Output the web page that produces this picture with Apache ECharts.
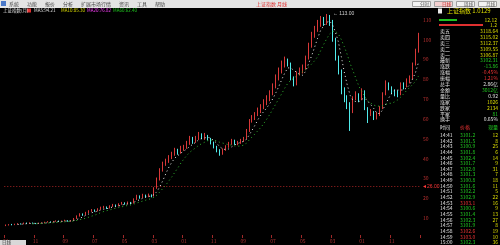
<!DOCTYPE html>
<html><head><meta charset="utf-8">
<script src="https://cdn.jsdelivr.net/npm/echarts@6.0.0/dist/echarts.min.js"></script>
<style>html,body{margin:0;padding:0;background:#000;overflow:hidden}#c{width:500px;height:245px}</style>
</head><body><div id="c"></div>
<script>
// ---- data (monthly candles) ----
const dates = [
'2008-01','2008-02','2008-03','2008-04','2008-05','2008-06','2008-07','2008-08','2008-09','2008-10','2008-11','2008-12',
'2009-01','2009-02','2009-03','2009-04','2009-05','2009-06','2009-07','2009-08','2009-09','2009-10','2009-11','2009-12',
'2010-01','2010-02','2010-03','2010-04','2010-05','2010-06','2010-07','2010-08','2010-09','2010-10','2010-11','2010-12',
'2011-01','2011-02','2011-03','2011-04','2011-05','2011-06','2011-07','2011-08','2011-09','2011-10','2011-11','2011-12',
'2012-01','2012-02','2012-03','2012-04','2012-05','2012-06','2012-07','2012-08','2012-09','2012-10','2012-11','2012-12',
'2013-01','2013-02','2013-03','2013-04','2013-05','2013-06','2013-07','2013-08','2013-09','2013-10','2013-11','2013-12',
'2014-01','2014-02','2014-03','2014-04','2014-05','2014-06','2014-07','2014-08','2014-09','2014-10','2014-11','2014-12',
'2015-01','2015-02','2015-03','2015-04','2015-05','2015-06','2015-07','2015-08','2015-09','2015-10','2015-11','2015-12',
'2016-01','2016-02','2016-03','2016-04','2016-05','2016-06','2016-07','2016-08','2016-09','2016-10','2016-11','2016-12',
'2017-01','2017-02','2017-03','2017-04','2017-05','2017-06','2017-07','2017-08','2017-09','2017-10','2017-11','2017-12',
'2018-01','2018-02','2018-03','2018-04','2018-05','2018-06','2018-07','2018-08','2018-09','2018-10','2018-11','2018-12',
'2019-01','2019-02','2019-03','2019-04','2019-05','2019-06','2019-07','2019-08'];
const openP = [
6.2,6.5,6.9,6.6,7.0,7.3,7.0,7.6,7.3,7.7, 7.4,7.2,7.5,7.6,7.9,8.3,8.0,8.4,8.7,8.3,
8.5,8.9,8.4,8.8,9.8,11.0,12.1,11.6,12.8,13.5, 14.1,13.6,14.5,15.2,15.6,15.0,16.0,16.6,16.2,17.0,
17.7,17.2,17.9,17.5,19.5,21.1,20.4,21.6,20.8,21.7, 21.0,25.0,29.5,34.0,37.2,38.6,40.6,42.0,44.2,43.0,
45.2,45.5,47.5,50.2,48.5,50.0,52.2,50.5,51.6,50.0, 48.2,46.0,44.2,42.5,44.5,46.0,47.5,49.2,47.5,48.0,
49.0,50.0,54.0,59.2,60.5,62.2,64.0,65.5,68.2,70.0, 72.5,76.0,80.5,84.0,87.5,89.2,88.0,80.5,77.5,83.0,
84.0,85.5,90.5,97.0,102.5,105.5,108.0,110.2,108.5,111.5, 109.0,100.0,90.5,84.0,74.0,70.0,67.5,64.0,70.5,72.0,
70.0,74.0,65.5,62.5,63.5,60.5,62.0,65.5,72.5,77.5, 76.0,74.0,73.0,72.5,77.5,76.5,79.0,80.5,87.5,94.0];
const closeP = [
6.5,6.8,6.6,7.0,7.2,7.0,7.5,7.3,7.6,7.4, 7.2,7.5,7.6,7.9,8.2,8.0,8.4,8.6,8.3,8.5,
8.9,8.4,8.8,9.8,11.0,12.0,11.6,12.8,13.5,14.0, 13.6,14.5,15.2,15.5,15.0,16.0,16.5,16.2,17.0,17.6,
17.2,17.8,17.5,19.5,21.0,20.4,21.5,20.8,21.6,21.0, 25.0,29.5,34.0,37.0,38.5,40.5,42.0,44.0,43.0,45.0,
45.5,47.5,50.0,48.5,50.0,52.0,50.5,51.5,50.0,48.0, 46.0,44.0,42.5,44.5,46.0,47.5,49.0,47.5,48.0,49.0,
50.0,54.0,59.0,60.5,62.0,64.0,65.5,68.0,70.0,72.5, 76.0,80.5,84.0,87.5,89.0,88.0,80.5,77.5,83.0,84.0,
85.5,90.5,97.0,102.5,105.5,108.0,110.0,108.5,111.5,109.0, 100.0,90.5,84.0,74.0,70.0,67.5,64.0,70.5,72.0,70.0,
74.0,65.5,62.5,63.5,60.5,62.0,65.5,72.5,77.5,76.0, 74.0,73.0,72.5,77.5,76.5,79.0,80.5,87.5,94.0,102.5];
const lowP = [
6.0,6.3,6.4,6.5,6.8,6.8,6.9,7.1,7.2,7.2, 7.0,7.1,7.3,7.5,7.8,7.8,7.9,8.2,8.1,8.2,
8.4,8.2,8.3,8.7,9.6,10.8,11.2,11.5,12.6,13.2, 13.2,13.4,14.3,14.9,14.6,14.9,15.7,15.8,16.0,16.8,
16.8,17.0,17.0,17.4,19.2,19.8,20.2,20.3,20.6,20.5, 20.9,24.8,29.0,33.5,36.4,37.9,39.8,41.5,42.0,42.5,
44.0,45.0,47.0,47.5,48.0,49.5,49.8,49.5,49.2,47.2, 45.2,43.2,41.5,42.0,44.0,45.5,47.0,47.0,46.8,47.5,
48.5,49.8,53.5,58.2,59.5,61.5,63.0,65.0,67.0,69.0, 72.0,75.5,79.5,83.0,86.0,86.5,79.5,76.5,77.0,82.0,
83.0,85.0,90.0,96.0,101.0,104.0,106.5,107.0,107.5,107.0, 99.0,89.5,82.5,72.5,68.5,65.0,54.0,63.0,69.5,68.5,
69.5,64.5,58.0,61.5,59.5,59.8,61.5,65.0,72.0,74.5, 72.5,71.5,71.0,72.0,75.0,76.0,78.0,80.0,87.0,93.5];
const highP = [
6.8,7.0,7.1,7.2,7.5,7.4,7.8,7.8,7.9,7.8, 7.6,7.7,7.9,8.2,8.5,8.4,8.6,8.9,8.8,8.8,
9.2,9.0,9.0,10.1,11.4,12.5,12.4,13.2,14.0,14.6, 14.4,15.0,15.8,16.2,15.9,16.5,17.2,16.9,17.5,18.2,
18.0,18.4,18.2,20.0,21.8,21.5,22.3,21.9,22.4,22.0, 25.6,30.5,35.2,38.5,40.0,41.8,43.5,45.5,45.0,46.5,
47.0,49.0,51.5,51.0,51.5,53.5,52.8,53.0,52.0,50.5, 48.6,46.5,44.8,45.2,46.8,48.5,50.0,49.6,49.0,50.0,
51.0,55.0,60.0,62.0,63.5,65.8,67.5,70.0,72.0,74.5, 78.0,82.5,86.0,89.5,91.5,90.5,88.5,81.5,84.0,86.0,
87.5,92.0,98.5,104.0,107.0,110.0,112.0,111.5,113.0,112.5, 110.0,101.0,92.0,85.0,76.0,72.0,68.5,71.5,74.0,73.0,
75.5,74.5,66.0,65.0,64.0,63.5,66.5,73.5,79.5,78.5, 76.5,75.0,74.5,78.5,78.5,80.5,82.0,88.5,95.5,103.5];
const refLevel = 26;          // red dotted reference line
const maShort = 5, maMid = 10;

// ---- texts ----
const menuItems = ['系统','功能','报价','分析','扩展市场行情','资讯','工具','帮助'];
const headTitle = '上证指数 月线';
const chartTitle = '上证指数(月)';
const legendTexts = ['MA5:94.21','MA10:85.30','MA20:76.82','MA60:62.40'];
const panelName = '上证指数 1.0129';
const panelTopVals = ['12.12','1.2'];
const bookLabels = ['卖五','卖四','卖三','卖二','卖一','最新','涨跌','涨幅','振幅','总手','金额','量比','涨家','跌家','平家','换手'];
const bookValues = ['3118.64','3115.02','3112.37','3109.55','3106.87','3102.31','-13.86','-0.45%','1.21%','2.86亿','3012亿','0.92','1026','2134','81','0.65%'];
const bookColors = ['y','y','y','y','y','g','g','r','r','w','g','w','y','y','g','w'];
const tradeHead = ['时间','价格','现量'];
const tradeTimes = ['14:41','14:42','14:43','14:44','14:45','14:46','14:47','14:48','14:49','14:50','14:51','14:52','14:53','14:54','14:55','14:56','14:57','14:58','14:59','15:00'];
const tradePrices = ['3101.2','3101.5','3100.9','3101.8','3102.4','3101.7','3102.0','3101.3','3100.8','3101.6','3102.2','3102.9','3103.1','3100.6','3101.4','3102.3','3101.9','3102.6','3103.0','3102.3'];
const tradeColors = ['g','g','g','g','g','g','g','g','g','g','g','g','r','g','g','g','g','r','r','g'];
const tradeVols = ['12','8','25','6','14','9','31','7','18','11','5','22','16','9','13','27','8','19','10','36'];

const COL = {w:'#e0e0e0', y:'#dede00', g:'#20c820', r:'#f03434', m:'#ff40ff'};
const FONT = '"Noto Sans CJK SC", "DejaVu Sans", sans-serif';

function movingAverage(n){
  return closeP.map((c,i)=>{
    if(i<n-1) return '-';
    let s=0; for(let k=i-n+1;k<=i;k++) s+=closeP[k];
    return +(s/n).toFixed(2);
  });
}

const els = [];
function txt(x,y,s,fill,align,size){
  els.push({type:'text', x:x, y:y, silent:true, z:100,
    style:{text:s, fill:fill, font:(size||6)+'px '+FONT, align:align||'left', verticalAlign:'middle'}});
}
function rect(x,y,w,h,fill,stroke){
  els.push({type:'rect', silent:true, z:99, shape:{x:x,y:y,width:w,height:h},
    style:{fill:fill, stroke:stroke||null, lineWidth:stroke?1:0}});
}

// top menu bar
rect(0,0,500,8,'#e4e4e4');
rect(1,1,5,5,'#4a78c8');
let mx = 9;
menuItems.forEach(m=>{ txt(mx,4,m,'#444','left',5); mx += m.length*5+8; });
txt(256,4,headTitle,'#e03030','left',5);
[[412,20],[434,20],[456,20],[478,20]].forEach((b,i)=>{
  rect(b[0]+0.5,1.5,b[1]-2,5,i===1?'#f4d0d0':'#f2f2f2','#a0a0a0');
});
txt(420,4,'分时','#555','left',4.5); txt(442,4,'日线','#c02020','left',4.5);
txt(464,4,'周线','#555','left',4.5); txt(486,4,'月线','#555','left',4.5);

// chart legend line
txt(3,10.5,chartTitle,COL.w,'left',4.5);
rect(27,8.5,4,4,'#e03030');
txt(34,10.5,legendTexts[0],COL.w,'left',4.5);
txt(61,10.5,legendTexts[1],COL.y,'left',4.5);
txt(87,10.5,legendTexts[2],COL.m,'left',4.5);
txt(113,10.5,legendTexts[3],COL.g,'left',4.5);

// right panel
rect(438,8.5,4,5,'#e8e8e8');
txt(447,11,panelName,COL.y,'left',6);
rect(439,19,18,2,'#20c020');
rect(439,24,44,2,'#e03030');
txt(497,20,panelTopVals[0],COL.y,'right',5);
txt(497,25.5,panelTopVals[1],COL.y,'right',5);
bookLabels.forEach((l,i)=>{
  const y = 31 + i*5.9;
  txt(440,y,l,COL.w,'left',5);
  txt(498,y,bookValues[i],COL[bookColors[i]],'right',5);
});
txt(440,127,tradeHead[0],COL.w,'left',5);
txt(460,127,tradeHead[1],COL.r,'left',5);
txt(498,127,tradeHead[2],COL.g,'right',5);
tradeTimes.forEach((t,i)=>{
  const y = 135 + i*5.65;
  txt(440,y,t,COL.w,'left',5);
  txt(460,y,tradePrices[i],COL[tradeColors[i]],'left',5);
  txt(498,y,tradeVols[i],COL.y,'right',5);
});
// bottom-left tab
rect(0,240,26,5,'#d8d8d8');
txt(2,242.5,'日线','#333','left',4.5);

const chart = echarts.init(document.getElementById('c'), null, {renderer:'canvas'});
chart.setOption({
  backgroundColor:'#000',
  animation:false,
  grid:{left:2, right:80, top:12, bottom:7},
  xAxis:{type:'category', data:dates, boundaryGap:true,
    axisLine:{show:false},
    axisTick:{show:true, interval:9, inside:true, length:3, lineStyle:{color:'#a02828'}},
    axisLabel:{show:true, interval:9, color:'#a83030', fontSize:5, margin:1, fontFamily:FONT,
      formatter:v=>v.slice(5)},
    splitLine:{show:false}},
  yAxis:{type:'value', position:'right', min:0, max:114, interval:10,
    axisLine:{show:false}, axisTick:{show:false}, splitLine:{show:false},
    axisLabel:{color:'#b83030', fontSize:5, margin:3, fontFamily:FONT, showMaxLabel:false, showMinLabel:false}},
  series:[
    {type:'candlestick', name:'K',
      data:dates.map((d,i)=>[openP[i],closeP[i],lowP[i],highP[i]]),
      barWidth:1,
      itemStyle:{color:'#d83838', color0:'#50eaea', borderColor:'#d83838', borderColor0:'#50eaea', borderWidth:1},
      markLine:{silent:true, symbol:['none','none'],
        lineStyle:{color:'#a82424', type:[1,2], width:1},
        label:{show:true, position:'end', formatter:'◄'+refLevel.toFixed(2), color:'#ff3838', fontSize:5, distance:2},
        data:[{yAxis:refLevel}]},
      markPoint:{silent:true, symbol:'circle', symbolSize:1,
        itemStyle:{color:'rgba(0,0,0,0)'},
        label:{show:true, position:'right', color:'#d0d0d0', fontSize:5, distance:6,
          formatter:p=>'← '+(+p.value).toFixed(2)},
        data:[{type:'max', valueDim:'highest'}]}
    },
    {type:'line', name:'MA5', data:movingAverage(maShort), showSymbol:false, smooth:false,
      lineStyle:{color:'#f0f0f0', width:1, type:[1,3]}, z:3},
    {type:'line', name:'MA10', data:movingAverage(maMid), showSymbol:false, smooth:false,
      lineStyle:{color:'#30b830', width:1, type:[1,3]}, z:3}
  ],
  graphic:els
});
</script>
</body></html>
